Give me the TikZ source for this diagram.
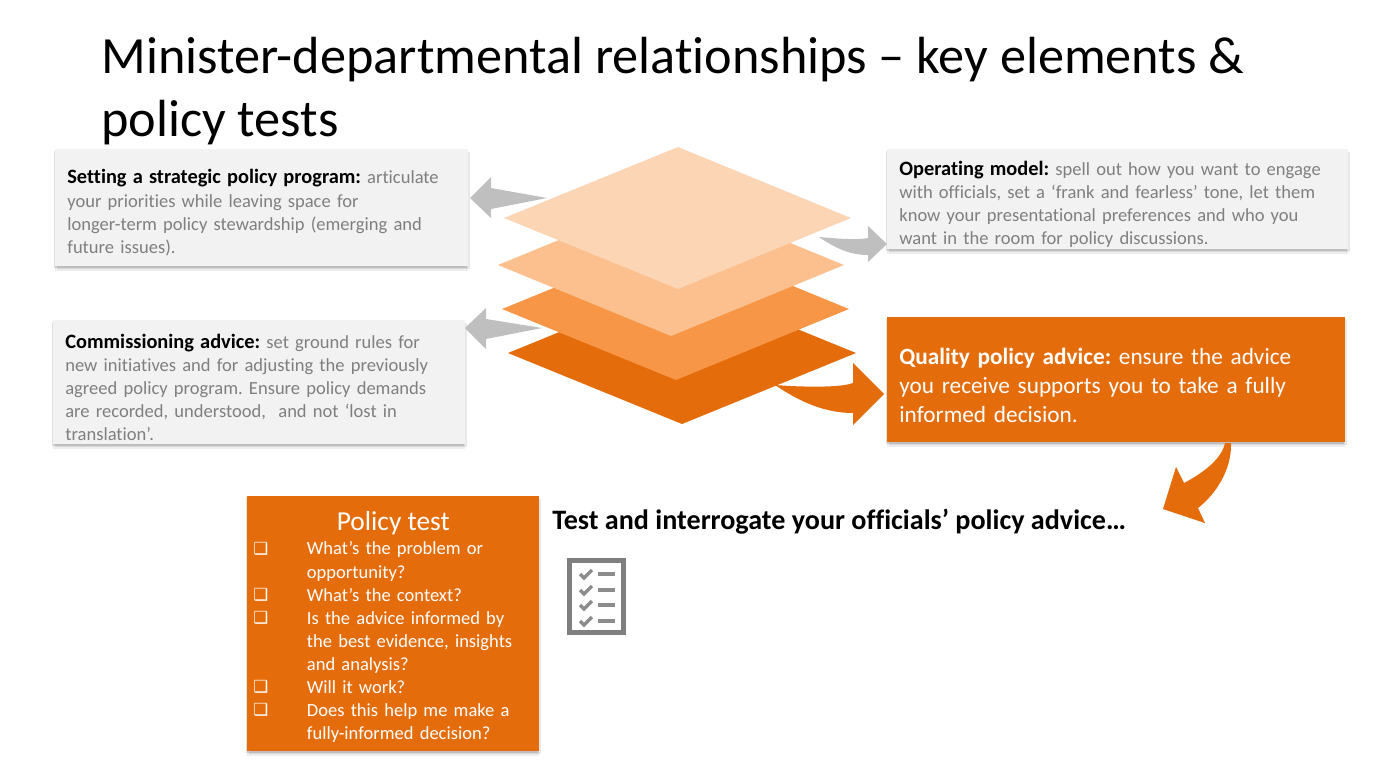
\documentclass[tikz,border=0pt]{standalone}
\usepackage{fontspec}
\setmainfont{Carlito}[RawFeature=-liga]
\newfontfamily\symfont{DejaVu Sans}
\usetikzlibrary{shadows}
\definecolor{layerA}{HTML}{FCD5B5}
\definecolor{layerB}{HTML}{FBC08E}
\definecolor{layerC}{HTML}{F79646}
\definecolor{layerD}{HTML}{E46C0A}
\definecolor{boxgray}{HTML}{F2F2F2}
\definecolor{textgray}{HTML}{7F7F7F}
\definecolor{arrowgray}{HTML}{BFBFBF}
\def\px{0.02cm}
\newcommand{\chk}{\makebox[30.5pt][l]{\raisebox{.5pt}{\symfont\bfseries\fontsize{9.5}{9.5}\selectfont ❑}}}
\newcommand{\nochk}{\hspace*{30.5pt}}
\newcommand{\lift}{\rule{0pt}{13.6pt}}
\newcommand{\hd}[1]{\textcolor{black}{\fontsize{11.6}{13.1}\selectfont\textbf{#1}}}
\begin{document}
\begin{tikzpicture}[x=0.02cm,y=-0.02cm,
	softshadow/.style={
		drop shadow={shadow xshift=0pt,shadow yshift=-2.4pt,fill=black,opacity=.07},
		drop shadow={shadow xshift=1.1pt,shadow yshift=-1.6pt,fill=black,opacity=.09},
		drop shadow={shadow xshift=-.5pt,shadow yshift=-.9pt,fill=black,opacity=.12}},
	infobox/.style={anchor=north west,fill=boxgray,softshadow,inner sep=0pt,align=left,text=textgray,font=\fontsize{10.55}{13.1}\selectfont\frenchspacing},
	orangebox/.style={anchor=north west,fill=layerD,softshadow,inner sep=0pt,align=left,text=white}]
	\useasboundingbox (0,0) rectangle (1400,768);
	%title
	\node[anchor=north west,inner sep=0pt,align=left,font=\fontsize{29.75}{36}\selectfont] (title) at (101,36.5)
	{Minister-departmental relationships – key elements \&\\policy tests};
	
	%layers
	\fill[layerD] (508,353)--(682,282)--(856,353)--(682,424)--cycle;
	\fill[layerC] (502,309)--(676,238)--(849,309)--(676,380)--cycle;
	\fill[layerB] (498,265)--(671,194)--(844,265)--(671,336)--cycle;
	\fill[layerA] (504,218)--(678,147)--(851,218)--(678,289)--cycle;
	
	%boxes
	\node[infobox,minimum width=413*\px,minimum height=117*\px,text width=389*\px,inner xsep=12*\px] (program) at (55,149)
	{\lift\hd{Setting a strategic policy program:} articulate\\your priorities while leaving space for\\longer-term policy stewardship (emerging and\\future issues).};
	\node[infobox,minimum width=461*\px,minimum height=100*\px,text width=437*\px,inner xsep=12*\px] (model) at (887,149)
	{\lift\hd{Operating model:} spell out how you want to engage\\with officials, set a ‘frank and fearless’ tone, let them\\know your presentational preferences and who you\\want in the room for policy discussions.};
	\node[infobox,minimum width=412*\px,minimum height=124*\px,text width=388*\px,inner xsep=12*\px] (advice) at (53,320)
	{\lift\hd{Commissioning advice:} set ground rules for\\new initiatives and for adjusting the previously\\agreed policy program. Ensure policy demands\\are recorded, understood,\ \ and not ‘lost in\\translation’.};
	\node[orangebox,minimum width=458*\px,minimum height=125*\px,text width=434*\px,inner xsep=12*\px,font=\fontsize{13.25}{16.4}\selectfont\frenchspacing] (quality) at (887,317)
	{\rule{0pt}{15.4pt}\textbf{Quality policy advice:} ensure the advice\\you receive supports you to take a fully\\informed decision.};
	\node[orangebox,minimum width=292*\px,minimum height=255*\px,text width=280*\px,inner xsep=6*\px,font=\fontsize{10.55}{13.1}\selectfont\frenchspacing] (test) at (247,496)
	{\rule{0pt}{14pt}\hspace*{47.5pt}{\fontsize{15.6}{14.4}\selectfont Policy test}\\[1pt]
	\chk What’s the problem or\\\nochk opportunity?\\\chk What’s the context?\\\chk Is the advice informed by\\\nochk the best evidence, insights\\\nochk and analysis?\\\chk Will it work?\\\chk Does this help me make a\\\nochk fully-informed decision?};
	\node[anchor=base west,inner sep=0pt,font=\fontsize{16}{18}\selectfont\bfseries] (lead) at (552,529.5)
	{Test and interrogate your officials’ policy advice…};
	
	%arrows
	\fill[arrowgray] (547,198)--(491,188)--(491,177)--(470,198)--(491,218)--(491,209)--cycle;
	\fill[arrowgray] (542,328)--(486,319)--(486,308)--(465,328)--(486,349)--(486,339)--cycle;
	\fill[arrowgray] (819,237) .. controls (840,239) and (860,240) .. (868,238)--(868,226)--(887,244)--(868,262)--(868,255) .. controls (850,255) and (835,248) .. (819,237)--cycle;
	\fill[layerD] (775,385) .. controls (800,387) and (840,388) .. (853,383)--(853,363)--(884,394)--(853,425)--(853,413) .. controls (825,413) and (800,402) .. (775,385)--cycle;
	\fill[layerD] (1231,443) .. controls (1232,470) and (1215,495) .. (1198,508)--(1205,523)--(1163,509)--(1176,467)--(1184,483) .. controls (1205,472) and (1222,458) .. (1225,443)--cycle;
	
	%checklist icon
	\draw[textgray,line width=5*\px] (569.5,560.5) rectangle (623.5,632.5);
	\foreach \yy in {574,590,605,621}{
		\draw[textgray!90,line width=3.5*\px] (580,\yy)--(584,\yy+4)--(592,\yy-4);
		\draw[textgray!90,line width=3.5*\px] (598,\yy)--(615,\yy);
	}
\end{tikzpicture}
\end{document}
